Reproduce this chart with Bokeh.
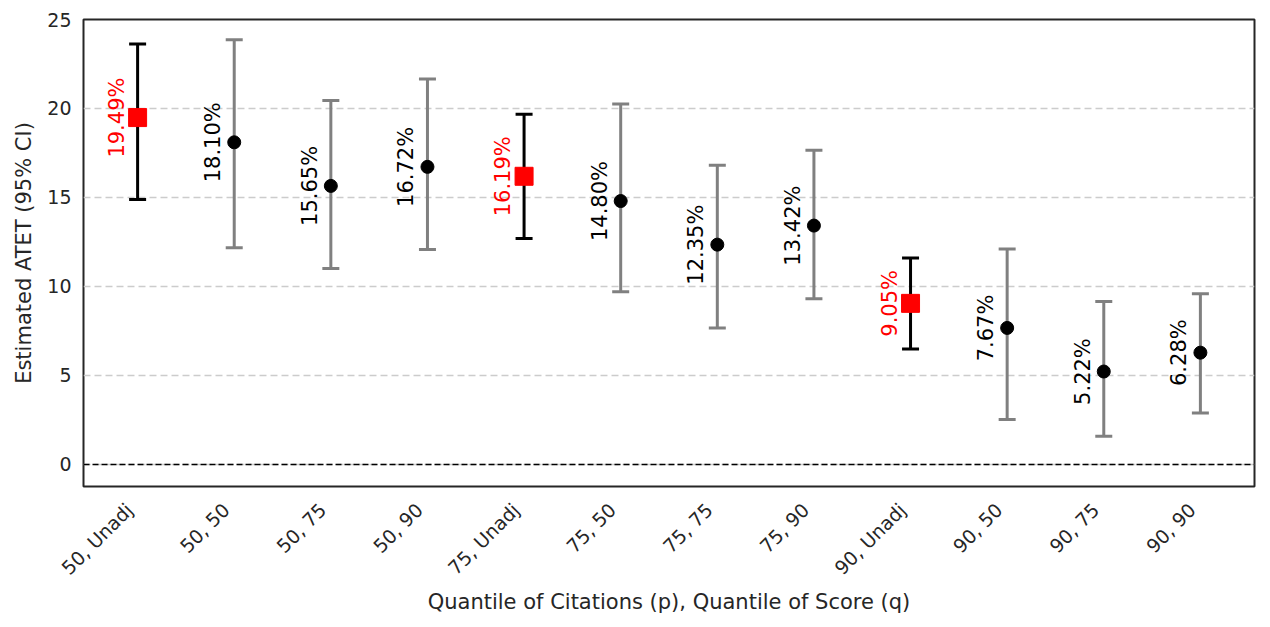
import numpy as np
from bokeh.plotting import figure
from bokeh.models import ColumnDataSource, FixedTicker, Span, Whisker, TeeHead
from bokeh.core.properties import value
from bokeh.embed import file_html
from bokeh.resources import INLINE

# estimates and 95% CI
labels = ["50, Unadj", "50, 50", "50, 75", "50, 90",
          "75, Unadj", "75, 50", "75, 75", "75, 90",
          "90, Unadj", "90, 50", "90, 75", "90, 90"]
estimate = [19.49, 18.10, 15.65, 16.72, 16.19, 14.80, 12.35, 13.42, 9.05, 7.67, 5.22, 6.28]
ci_upper = [23.63, 23.86, 20.45, 21.66, 19.68, 20.25, 16.81, 17.65, 11.60, 12.11, 9.15, 9.59]
ci_lower = [14.89, 12.17, 11.01, 12.07, 12.69, 9.70, 7.67, 9.31, 6.49, 2.52, 1.58, 2.89]
y_ticks = [0, 5, 10, 15, 20, 25]

FONT = "DejaVu Sans"
TXT = "#262626"

x = list(range(len(labels)))
unadj = [("Unadj" in s) for s in labels]

def subset(mask):
    idx = [i for i in x if mask[i]]
    return ColumnDataSource(dict(
        x=idx,
        est=[estimate[i] for i in idx],
        lo=[ci_lower[i] for i in idx],
        hi=[ci_upper[i] for i in idx],
        txt=["%.2f%%" % estimate[i] for i in idx],
    ))

src_u = subset(unadj)
src_a = subset([not u for u in unadj])

p = figure(frame_width=1171, frame_height=467,
           x_range=(-0.56, len(labels) - 0.44), y_range=(-1.24, 25),
           output_backend="svg", toolbar_location=None,
           min_border_left=83, min_border_right=8, min_border_top=19, min_border_bottom=10)

p.background_fill_color = "white"
p.outline_line_color = TXT
p.outline_line_width = 2

p.xgrid.visible = False
p.ygrid.grid_line_color = "#cccccc"
p.ygrid.grid_line_dash = "7 4"
p.ygrid.grid_line_width = 1.3
p.yaxis.ticker = FixedTicker(ticks=y_ticks)

# rotated labels end at the tick in the original, nudge them a bit left
tick_pos = [round(i - 0.085, 3) for i in x]
p.xaxis.ticker = FixedTicker(ticks=tick_pos)
p.xaxis.major_label_overrides = {t: s for t, s in zip(tick_pos, labels)}
p.xaxis.major_label_orientation = np.pi / 4

for ax in (p.xaxis, p.yaxis):
    ax.axis_line_color = None
    ax.major_tick_line_color = None
    ax.minor_tick_line_color = None
    ax.major_tick_out = 0
    ax.major_label_text_font = FONT
    ax.major_label_text_color = TXT
    ax.axis_label_text_font = FONT
    ax.axis_label_text_font_style = "normal"
    ax.axis_label_text_color = TXT

p.xaxis.major_label_text_font_size = "19px"
p.yaxis.major_label_text_font_size = "19px"
p.xaxis.axis_label_text_font_size = "21px"
p.yaxis.axis_label_text_font_size = "21px"
p.yaxis.major_label_standoff = 12
p.xaxis.major_label_standoff = 20
p.xaxis.axis_label = "Quantile of Citations (p), Quantile of Score (q)"
p.yaxis.axis_label = "Estimated ATET (95% CI)"
p.xaxis.axis_label_standoff = 0
p.yaxis.axis_label_standoff = 8

p.add_layout(Span(location=0, dimension="width", line_color="black",
                  line_dash="6 3", line_width=1.5))

for src, col in ((src_a, "#808080"), (src_u, "black")):
    w = Whisker(source=src, base="x", upper="hi", lower="lo",
                line_color=col, line_width=3,
                upper_head=TeeHead(size=17, line_color=col, line_width=3),
                lower_head=TeeHead(size=17, line_color=col, line_width=3))
    p.add_layout(w)

p.scatter("x", "est", source=src_a, marker="circle", size=13,
          fill_color="black", line_color="black")
p.scatter("x", "est", source=src_u, marker="square", size=18,
          fill_color="red", line_color="red")

for src, col in ((src_a, "black"), (src_u, "red")):
    p.text("x", "est", text="txt", source=src, angle=np.pi / 2,
           text_align="center", text_baseline="bottom", x_offset=-9,
           text_font=value(FONT), text_font_size="21px", text_color=col)

open("out.html", "w").write(file_html(p, INLINE))
